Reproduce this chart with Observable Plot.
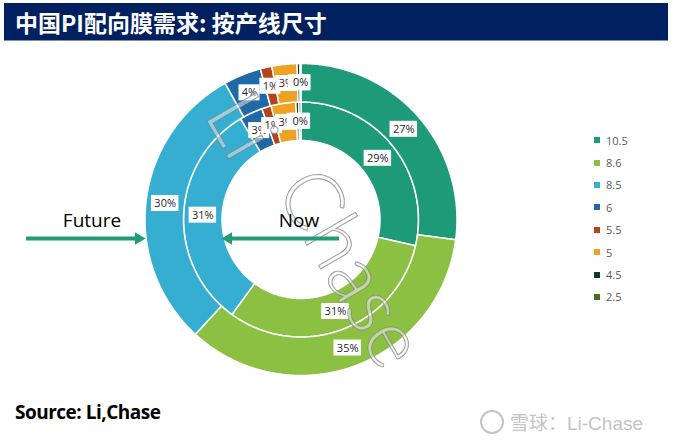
<!DOCTYPE html>
<html><head><meta charset="utf-8">
<script src="https://cdn.jsdelivr.net/npm/d3@7"></script>
<script src="https://cdn.jsdelivr.net/npm/@observablehq/plot@0.6"></script>
<style>
body{margin:0;background:#fff;}
#wrap{position:relative;width:673px;height:443px;overflow:hidden;background:#fff;}
#title{position:absolute;left:4px;top:3px;width:664px;height:38px;background:#002060;color:#fff;font:bold 23px "Noto Sans CJK SC",sans-serif;line-height:38px;padding-left:11px;box-sizing:border-box;border-bottom:1px solid #8090a8;}
#chart{position:absolute;left:0;top:0;}
#legend{position:absolute;left:594px;top:129px;font:11px "Open Sans",sans-serif;color:#595959;}
.li{height:22.4px;display:flex;align-items:center;}
.sw{width:6px;height:6px;margin-right:6px;}
#source{position:absolute;left:15px;top:399px;font:bold 19px "Open Sans",sans-serif;color:#000;letter-spacing:-0.5px;}
#xq{position:absolute;left:480px;top:408px;display:flex;align-items:center;color:#c4c4c4;font:19px "Liberation Sans","Noto Sans CJK SC",sans-serif;}
#xq .logo{width:20px;height:20px;border:2px solid #c4c4c4;border-radius:50%;margin-right:6px;}
</style></head>
<body><div id="wrap">
<div id="title">中国PI配向膜需求: 按产线尺寸</div>
<div id="chart"></div>
<div id="legend"></div>
<div id="source">Source: Li,Chase</div>
<div id="xq"><div class="logo"></div>雪球：Li-Chase</div>
</div>
<script>
// ---- data ----
const sizes = ["10.5", "8.6", "8.5", "6", "5.5", "5", "4.5", "2.5"];
const colors = ["#1d9b79", "#8cc043", "#35aed2", "#1f6aa6", "#b3441b", "#eea223", "#0e3d30", "#4b6b20"];
const nowShare = [28.6, 31.4, 31.4, 3.2, 1.3, 3.4, 0.4, 0.3];      // inner ring
const futureShare = [27.1, 34.8, 30.1, 3.9, 1.2, 2.6, 0.3, 0.1];   // outer ring
const ringLabels = ["Now", "Future"];
const watermark = ["Li", "Chase"];

// ---- geometry (layout) ----
const HOLE = 79, MID = 117.5, OUTER = 156;
const rings = [
  {name: ringLabels[0], values: nowShare, r0: HOLE, r1: MID},
  {name: ringLabels[1], values: futureShare, r0: MID, r1: OUTER}
];

const polys = [];
const labels = [];
for (const ring of rings) {
  const total = d3.sum(ring.values);
  let acc = 0;
  ring.values.forEach((v, i) => {
    const a0 = acc / total * 2 * Math.PI;
    acc += v;
    const a1 = acc / total * 2 * Math.PI;
    const key = ring.name + "-" + sizes[i];
    const n = Math.max(2, Math.ceil((a1 - a0) / (Math.PI / 360)));
    for (let k = 0; k <= n; k++) {
      const a = a0 + (a1 - a0) * k / n;
      polys.push({key, size: sizes[i], x: ring.r1 * Math.sin(a), y: ring.r1 * Math.cos(a)});
    }
    for (let k = n; k >= 0; k--) {
      const a = a0 + (a1 - a0) * k / n;
      polys.push({key, size: sizes[i], x: ring.r0 * Math.sin(a), y: ring.r0 * Math.cos(a)});
    }
    const am = (a0 + a1) / 2, rm = (ring.r0 + ring.r1) / 2;
    const text = Math.round(v) + "%";
    labels.push({x: rm * Math.sin(am), y: rm * Math.cos(am), text, w: text.length * 6.5 + 8});
  });
}

const arrows = [
  {name: ringLabels[1], x1: -275, x2: -OUTER, tx: -209},
  {name: ringLabels[0], x1: 38, x2: -HOLE, tx: -2}
];
const AY = -19;

const labelMarks = labels.flatMap(d => [
  Plot.rect([d], {x1: d => d.x - d.w / 2, x2: d => d.x + d.w / 2, y1: d => d.y - 8, y2: d => d.y + 8, fill: "white"}),
  Plot.text([d], {x: "x", y: "y", text: "text", fontSize: 11, fill: "#262626", fontFamily: "Open Sans"})
]);

const chart = Plot.plot({
  width: 673, height: 443, margin: 0,
  x: {domain: [-300.5, 372.5], axis: null},
  y: {domain: [-224, 219], axis: null},
  color: {domain: sizes, range: colors},
  style: {background: "transparent", fontFamily: "Open Sans"},
  marks: [
    Plot.line(polys, {x: "x", y: "y", z: "key", fill: "size", stroke: "white", strokeWidth: 1.5, curve: "linear-closed"}),
    ...labelMarks,
    Plot.text(watermark, {
      x: [-61, 49], y: [93, -49], text: d => d, rotate: 60, fontSize: 80, fontFamily: "Lato", fontWeight: 300,
      fill: "white", fillOpacity: 0.45, stroke: "#7a7a7a", strokeWidth: 1.2, strokeOpacity: 0.85
    }),
    Plot.link(arrows, {x1: "x1", x2: d => d.x2 + (d.x1 < d.x2 ? -8 : 8), y1: AY, y2: AY, stroke: "#239b76", strokeWidth: 4}),
    Plot.dot(arrows, {x: d => d.x2 + (d.x1 < d.x2 ? -6.5 : 6.5), y: AY, symbol: "triangle", r: 4.6, fill: "#239b76", stroke: "none", rotate: d => d.x1 < d.x2 ? 90 : -90}),
    Plot.text(arrows, {x: "tx", y: -1, text: "name", fontSize: 19, fontFamily: "Open Sans", fill: "#000"})
  ]
});
document.getElementById("chart").appendChild(chart);

const lg = document.getElementById("legend");
sizes.forEach((s, i) => {
  const row = document.createElement("div");
  row.className = "li";
  row.innerHTML = `<span class="sw" style="background:${colors[i]}"></span><span>${s}</span>`;
  lg.appendChild(row);
});
</script>
</body></html>
